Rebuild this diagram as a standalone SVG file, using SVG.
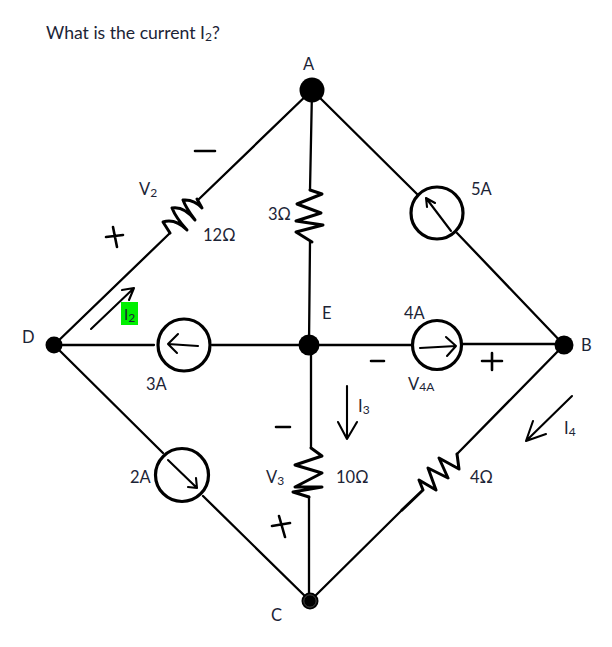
<svg xmlns="http://www.w3.org/2000/svg" width="612" height="647" viewBox="0 0 612 647">
<style>
.w{fill:none;stroke:#000;stroke-width:2.3;stroke-linecap:round;stroke-linejoin:round}
.r{fill:none;stroke:#000;stroke-width:3;stroke-linecap:round;stroke-linejoin:round}
.c{fill:#fff;stroke:#000;stroke-width:3.2}
.a{fill:none;stroke:#000;stroke-width:2.1;stroke-linecap:round;stroke-linejoin:round}
.p{fill:none;stroke:#000;stroke-width:2.6;stroke-linecap:round}
.d{fill:#000}
text{font-family:"Lato","Open Sans","Liberation Sans",sans-serif;font-size:16.5px;fill:#1c2436}
.s{font-size:12px}
</style>
<rect width="612" height="647" fill="#fff"/>
<g id="connectors">
<path class="w" d="M54,345L170,233M198,200L312,90M312,90L310,190M310,242L309,345M312,90L418,195M457,233L564,345M54,345L154,345M212,345L309,345M309,345L412,345M462,344L564,344M54,345L163,453M203,496L310,601M564,345L457,454M402,510L310,601M311,345L311,448M309,497L309,601"/>
</g>
<g id="title"><text x="46" y="39" style="font-size:17.6px">What is the current I<tspan class="s" dy="2">2</tspan><tspan dy="-2">?</tspan></text></g>
<g id="node-A"><circle class="d" cx="312" cy="90" r="12.5"/><text x="303" y="70">A</text></g>
<g id="node-B"><circle class="d" cx="564" cy="345" r="9.5"/><text x="581" y="351">B</text></g>
<g id="node-C"><circle class="d" cx="310" cy="601" r="8.5"/><circle cx="310" cy="601" r="6.2" fill="none" stroke="#555" stroke-width="0.8"/><text x="271" y="621">C</text></g>
<g id="node-D"><circle class="d" cx="54" cy="345" r="8.5"/><text x="22" y="343">D</text></g>
<g id="node-E"><circle class="d" cx="309" cy="345" r="10.5"/><text x="322" y="319">E</text></g>
<g id="R12">
<path class="r" d="M170,233L163,222Q175,218 187,230Q176,218 172,208Q184,206 195,220Q186,208 183,200Q194,199 202,208L197,199"/>
<text x="203" y="241">12Ω</text><text x="139" y="195">V<tspan class="s" dy="2">2</tspan></text>
<path class="p" d="M106,237L123,235M113,227L117,247M195,151L215,151"/>
</g>
<g id="R3">
<path class="r" d="M310,190L322,194L297,204L321,213L296,221L323,225L296,232L312,242"/>
<text x="268" y="220">3Ω</text>
</g>
<g id="R10">
<path class="r" d="M311,448L322,456L295,465L322,473L295,487L322,487L293,492L309,497"/>
<text x="336" y="483">10Ω</text><text x="266" y="483">V<tspan class="s" dy="2">3</tspan></text>
<path class="p" d="M276,427L290,427M272,526L290,523M279,516L285,537"/>
</g>
<g id="R4">
<path class="r" d="M457,454L459,469L439,458L448,478L428,468L436,490L419,480L423,490L402,510"/>
<text x="470" y="483">4Ω</text>
</g>
<g id="S5A">
<circle class="c" cx="437" cy="213" r="26"/>
<path class="a" d="M451,231L426,198M427,207L426,198L435,203"/>
<text x="471" y="195">5A</text>
</g>
<g id="S4A">
<circle class="c" cx="437" cy="345" r="24.5"/>
<path class="a" d="M420,348L456,346M446,337L456,346L447,356"/>
<text x="404" y="319">4A</text><text x="408" y="390">V<tspan class="s" dy="1">4A</tspan></text>
<path class="p" d="M371,361L384,361M482,361L502,361M492,353L492,370"/>
</g>
<g id="S3A">
<circle class="c" cx="184" cy="345" r="26"/>
<path class="a" d="M198,346L168,344M178,334L168,344L177,353"/>
<text x="146" y="390">3A</text>
</g>
<g id="S2A">
<circle class="c" cx="182" cy="475" r="26.5"/>
<path class="a" d="M168,460L197,488M188,487L197,488L196,478"/>
<text x="130" y="483">2A</text>
</g>
<g id="I2">
<rect x="121" y="302" width="17" height="23" fill="#00f000"/>
<path class="a" d="M91,329L134,288M122,290L134,288L129,300"/>
<text x="124" y="320" style="font-size:15px">I<tspan class="s" dy="2">2</tspan></text>
</g>
<g id="I3">
<path class="a" d="M347,386L347,439M338,422L347,439L357,422"/>
<text x="358" y="412">I<tspan class="s" dy="2">3</tspan></text>
</g>
<g id="I4">
<path class="a" d="M572,396L526,441M533,421L526,441L546,434"/>
<text x="564" y="434">I<tspan class="s" dy="2">4</tspan></text>
</g>
</svg>
